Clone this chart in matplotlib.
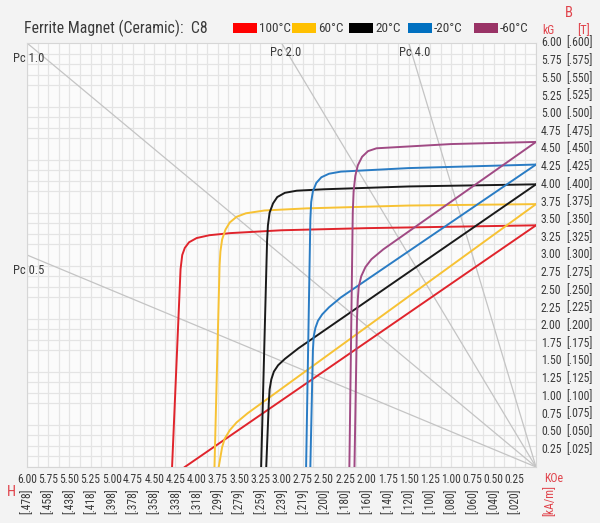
import numpy as np
import matplotlib
matplotlib.use("Agg")
import matplotlib.pyplot as plt
from matplotlib.patches import Rectangle

# =========================
# DATOS
# =========================

temps = ["100°C", "60°C", "20°C", "-20°C", "-60°C"]
legend_colors = ["#ff0000", "#ffc000", "#000000", "#0070c0", "#993366"]
line_colors = ["#e0242c", "#f7c234", "#1a1a1a", "#2a7cc4", "#a04a84"]

# curva intrínseca (H en kOe, B en kG)
Hi_100 = [0.00, 1.00, 2.00, 3.00, 3.60, 3.85, 4.00, 4.09, 4.14, 4.17, 4.19, 4.29]
Bi_100 = [3.42, 3.40, 3.38, 3.35, 3.31, 3.28, 3.24, 3.18, 3.10, 3.00, 2.80, 0.00]
Hi_60 = [0.00, 1.50, 2.70, 3.20, 3.42, 3.53, 3.61, 3.66, 3.70, 3.72, 3.73, 3.79]
Bi_60 = [3.72, 3.70, 3.66, 3.63, 3.59, 3.54, 3.46, 3.36, 3.22, 3.05, 2.85, 0.00]
Hi_20 = [0.00, 1.50, 2.50, 2.82, 2.96, 3.05, 3.10, 3.14, 3.16, 3.17, 3.24]
Bi_20 = [4.00, 3.97, 3.93, 3.91, 3.88, 3.82, 3.73, 3.60, 3.42, 3.20, 0.00]
Hi_m20 = [0.00, 1.50, 2.30, 2.44, 2.53, 2.59, 2.63, 2.65, 2.66, 2.71]
Bi_m20 = [4.28, 4.23, 4.18, 4.15, 4.10, 4.02, 3.90, 3.75, 3.50, 0.00]
Hi_m60 = [0.00, 1.00, 1.88, 1.98, 2.05, 2.10, 2.13, 2.15, 2.16, 2.20]
Bi_m60 = [4.60, 4.57, 4.51, 4.47, 4.39, 4.27, 4.12, 3.90, 3.60, 0.00]

# curva normal
Hn_100 = [0.00, 4.14]
Bn_100 = [3.42, 0.00]
Hn_60 = [0.00, 3.40, 3.53, 3.61, 3.67, 3.70, 3.72, 3.74]
Bn_60 = [3.72, 0.76, 0.63, 0.52, 0.40, 0.28, 0.14, 0.00]
Hn_20 = [0.00, 2.80, 2.96, 3.04, 3.09, 3.12, 3.14, 3.15, 3.18]
Bn_20 = [4.00, 1.68, 1.53, 1.44, 1.35, 1.24, 1.10, 0.90, 0.00]
Hn_m20 = [0.00, 2.30, 2.44, 2.52, 2.57, 2.60, 2.62, 2.63, 2.66]
Bn_m20 = [4.28, 2.40, 2.26, 2.16, 2.07, 1.97, 1.85, 1.65, 0.00]
Hn_m60 = [0.00, 1.80, 1.94, 2.01, 2.06, 2.09, 2.10, 2.11, 2.14]
Bn_m60 = [4.60, 3.08, 2.94, 2.83, 2.70, 2.55, 2.38, 2.10, 0.00]

intrinsic = [(Hi_100, Bi_100), (Hi_60, Bi_60), (Hi_20, Bi_20), (Hi_m20, Bi_m20), (Hi_m60, Bi_m60)]
normal = [(Hn_100, Bn_100), (Hn_60, Bn_60), (Hn_20, Bn_20), (Hn_m20, Bn_m20), (Hn_m60, Bn_m60)]

# rectas de carga Pc (B = Pc * H)
pc_values = [1.0, 0.5, 2.0, 4.0]
pc_labels = ["Pc 1.0", "Pc 0.5", "Pc 2.0", "Pc 4.0"]

# ejes
h_ticks = ["6.00", "5.75", "5.50", "5.25", "5.00", "4.75", "4.50", "4.25", "4.00", "3.75", "3.50", "3.25",
           "3.00", "2.75", "2.50", "2.25", "2.00", "1.75", "1.50", "1.25", "1.00", "0.75", "0.50", "0.25"]
h_si = ["[.478]", "[.458]", "[.438]", "[.418]", "[.398]", "[.378]", "[.358]", "[.338]", "[.318]", "[.299]",
        "[.279]", "[.259]", "[.239]", "[.219]", "[.200]", "[.180]", "[.160]", "[.140]", "[.120]", "[.100]",
        "[.080]", "[.060]", "[.040]", "[.020]"]
b_ticks = ["6.00", "5.75", "5.50", "5.25", "5.00", "4.75", "4.50", "4.25", "4.00", "3.75", "3.50", "3.25",
           "3.00", "2.75", "2.50", "2.25", "2.00", "1.75", "1.50", "1.25", "1.00", "0.75", "0.50", "0.25"]
b_si = ["[.600]", "[.575]", "[.550]", "[.525]", "[.500]", "[.475]", "[.450]", "[.425]", "[.400]", "[.375]",
        "[.350]", "[.325]", "[.300]", "[.275]", "[.250]", "[.225]", "[.200]", "[.175]", "[.150]", "[.125]",
        "[.100]", "[.075]", "[.050]", "[.025]"]

FONT = ["Roboto Condensed", "Liberation Sans Narrow", "Roboto", "DejaVu Sans"]
RED = "#e0434b"
TXT = "#3a3a3a"

# =========================
# FIGURA
# =========================
fig = plt.figure(figsize=(6, 5.23), dpi=100, facecolor="#f3f3f3")
ax = fig.add_axes([27 / 600, 1 - 467 / 523, 509 / 600, 424 / 523])
ax.set_facecolor("#fbfbfb")

ax.set_xlim(6, 0)
ax.set_ylim(0, 6)

# rejilla
ax.set_xticks(np.arange(0, 6.001, 0.125), minor=True)
ax.set_yticks(np.arange(0, 6.001, 0.15), minor=True)
ax.xaxis.remove_overlapping_locs = False
ax.grid(which="minor", color="#e4e4e4", linewidth=0.9)
ax.grid(which="major", visible=False)
ax.set_axisbelow(True)
ax.tick_params(which="both", length=0)

for s in ax.spines.values():
    s.set_color("#d6d6d6")
    s.set_linewidth(0.8)

# rectas Pc
for pc, lab in zip(pc_values, pc_labels):
    h_end = min(6.0, 6.0 / pc)
    ax.plot([0, h_end], [0, pc * h_end], color="#c4c4c4", linewidth=0.9, zorder=1)

ax.text(6.17, 5.78, pc_labels[0], fontsize=9, family=FONT, color=TXT, ha="left", va="center", clip_on=False)
ax.text(6.17, 2.78, pc_labels[1], fontsize=9, family=FONT, color=TXT, ha="left", va="center", clip_on=False)
ax.text(3.13, 5.86, pc_labels[2], fontsize=9, family=FONT, color=TXT, ha="left", va="center")
ax.text(1.62, 5.86, pc_labels[3], fontsize=9, family=FONT, color=TXT, ha="left", va="center")

# curvas
for (hi, bi), (hn, bn), c in zip(intrinsic, normal, line_colors):
    ax.plot(hi, bi, color=c, linewidth=1.4, zorder=3, solid_joinstyle="round")
    ax.plot(hn, bn, color=c, linewidth=1.4, zorder=3, solid_joinstyle="round")

# =========================
# ETIQUETAS DE EJES
# =========================
xt = [float(t) for t in h_ticks]
ax.set_xticks(xt)
ax.set_xticklabels(h_ticks, fontsize=8.3, family=FONT, color=TXT)
ax.tick_params(axis="x", pad=4)
for x, s in zip(xt, h_si):
    ax.text(x, -0.08, s, transform=ax.get_xaxis_transform(), rotation=90, fontsize=8.3,
            family=FONT, color=TXT, ha="center", va="center")

yt = [float(t) for t in b_ticks]
ax.set_yticks(yt)
ax.set_yticklabels([])
for y, s1, s2 in zip(yt, b_ticks, b_si):
    ax.text(1.0098, y, s1, transform=ax.get_yaxis_transform(), fontsize=8.5, family=FONT,
            color=TXT, ha="left", va="center")
    ax.text(1.059, y, s2, transform=ax.get_yaxis_transform(), fontsize=8.5, family=FONT,
            color=TXT, ha="left", va="center")

fig.text(7 / 600, 1 - 492 / 523, "H", fontsize=10.5, family=FONT, color=RED, ha="left", va="center")
fig.text(544 / 600, 1 - 478 / 523, "KOe", fontsize=8.5, family=FONT, color=RED, ha="left", va="center")
fig.text(550 / 600, 1 - 500 / 523, "[kA/m]", fontsize=8.5, family=FONT, color=RED, rotation=90,
         ha="center", va="center")
fig.text(548 / 600, 1 - 31 / 523, "kG", fontsize=8.5, family=FONT, color=RED, ha="center", va="center")
fig.text(583 / 600, 1 - 31 / 523, "[T]", fontsize=9, family=FONT, color=RED, ha="center", va="center")
fig.text(569 / 600, 1 - 13 / 523, "B", fontsize=10.5, family=FONT, color=RED, ha="center", va="center")

# =========================
# TÍTULO Y LEYENDA
# =========================
fig.text(24 / 600, 1 - 28 / 523, "Ferrite Magnet (Ceramic):  C8", fontsize=11.3, family=FONT,
         color=TXT, ha="left", va="center")

leg_x = [233, 292, 349, 408, 474]
for lx, lab, c in zip(leg_x, temps, legend_colors):
    fig.patches.append(Rectangle((lx / 600, 1 - 33 / 523), 24 / 600, 10 / 523,
                                 transform=fig.transFigure, facecolor=c, edgecolor="none"))
    fig.text((lx + 26) / 600, 1 - 28 / 523, lab, fontsize=9.5, family=FONT, color=TXT,
             ha="left", va="center")

plt.savefig("out.png", dpi=100, facecolor=fig.get_facecolor())
plt.close()
